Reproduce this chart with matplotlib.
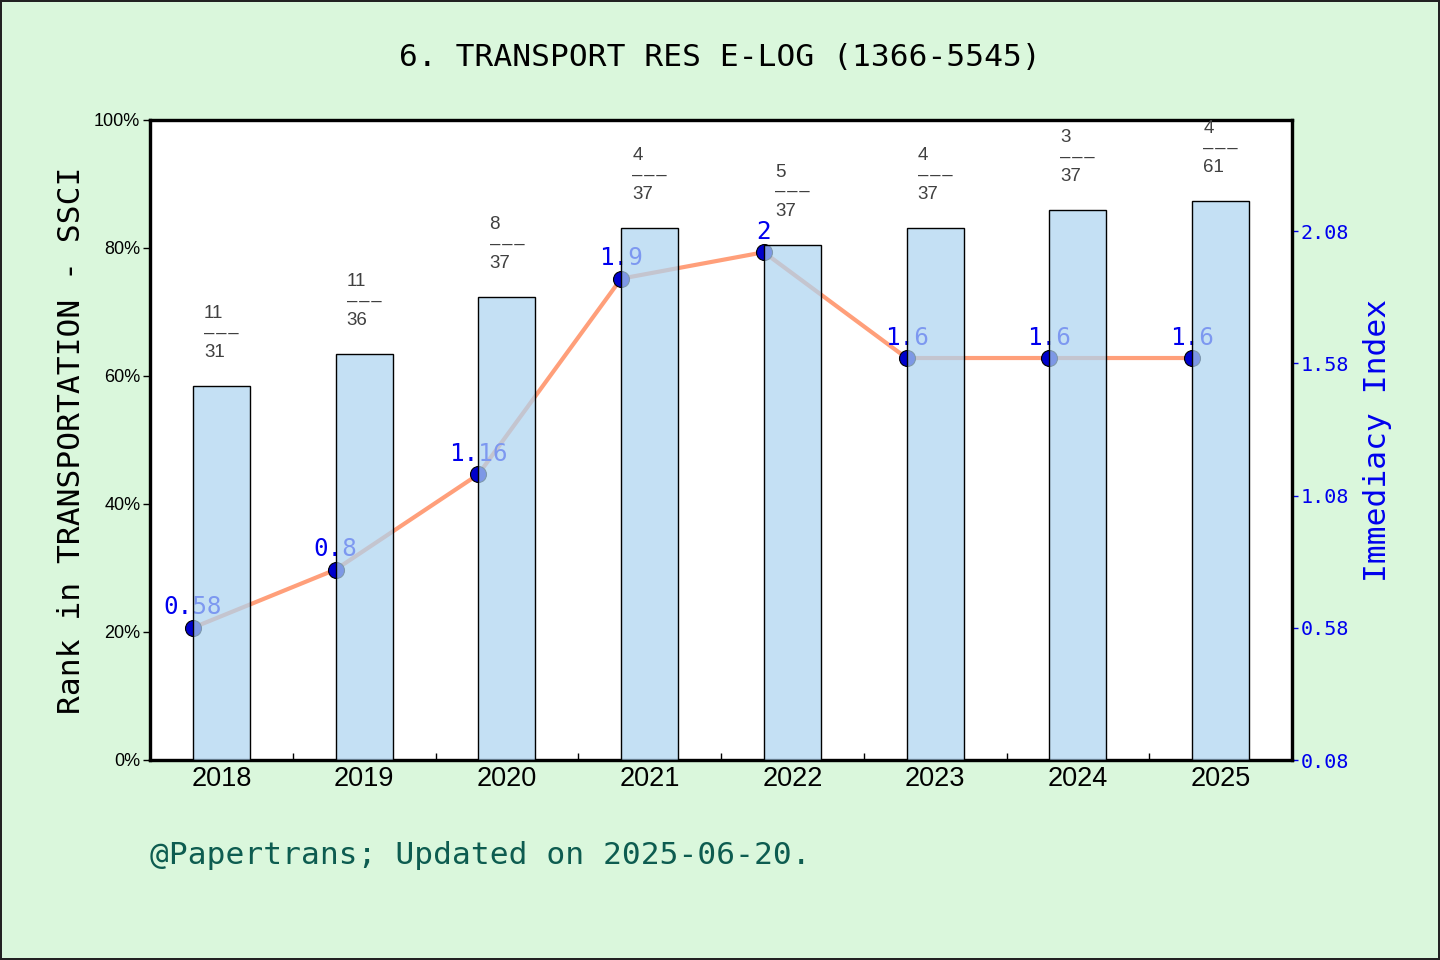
import matplotlib
matplotlib.use("Agg")
import matplotlib.pyplot as plt
import numpy as np

years = ["2018", "2019", "2020", "2021", "2022", "2023", "2024", "2025"]
rank_pct = [58.4, 63.4, 72.3, 83.1, 80.5, 83.1, 85.9, 87.3]
rank = [11, 11, 8, 4, 5, 4, 3, 4]
total = [31, 36, 37, 37, 37, 37, 37, 61]
immediacy = [0.58, 0.8, 1.16, 1.9, 2.0, 1.6, 1.6, 1.6]
imm_ticks = [0.08, 0.58, 1.08, 1.58, 2.08]

bg = "#daf7dc"
mono = "DejaVu Sans Mono"
sans = ["Liberation Sans", "DejaVu Sans"]

fig = plt.figure(figsize=(14.4, 9.6), dpi=100, facecolor=bg)
fig.patch.set_edgecolor("#222222")
fig.patch.set_linewidth(1.5)

rect = [150 / 1440, 1 - 760 / 960, 1142 / 1440, 640 / 960]
ax_line = fig.add_axes(rect)
ax_line.set_facecolor("white")
x = np.arange(len(years))

# line for immediacy index (drawn under the bars)
ax_line.plot(x - 0.2, immediacy, color="#ff9f7a", lw=3, marker="o", ms=11.5,
             mfc="#0000cc", mec="black", mew=0.8, zorder=2)
for xi, v in zip(x, immediacy):
    ax_line.annotate(f"{v:g}", (xi - 0.2, v), xytext=(0, 6), textcoords="offset points",
                     ha="center", va="bottom", color="#0000ee", fontsize=17.5, family=mono)

# bars on top, semi-transparent fill, solid edges
ax_bar = ax_line.twinx()
ax_bar.patch.set_visible(False)
ax_bar.bar(x, rank_pct, width=0.4, color=(0.682, 0.831, 0.945, 0.72),
           edgecolor="black", linewidth=1, zorder=3)
for xi, h, r, n in zip(x, rank_pct, rank, total):
    ax_bar.text(xi, h + 8.3, f"{r}\n–\u200a–\u200a–\n{n}", ha="center", va="center",
                multialignment="left", color="#404040", fontsize=13.5,
                family=sans, linespacing=1.2)
ax_bar.set_ylim(0, 100)
ax_bar.set_yticks([0, 20, 40, 60, 80, 100])
ax_bar.set_yticklabels([f"{t}%" for t in [0, 20, 40, 60, 80, 100]], fontsize=13, family=sans)
ax_bar.yaxis.tick_left()
ax_bar.yaxis.set_label_position("left")
ax_bar.set_ylabel("Rank in TRANSPORTATION - SSCI", fontsize=22.5, family=mono, labelpad=6)
ax_bar.tick_params(axis="y", direction="out", length=5, width=1, pad=2)

# right axis for the line (after twinx, which resets it)
ax_line.set_ylim(0.08, 2.5)
ax_line.set_yticks(imm_ticks)
ax_line.set_yticklabels([f"{t:.2f}" for t in imm_ticks], color="#0000ee",
                        fontsize=14.5, family=mono)
ax_line.yaxis.tick_right()
ax_line.yaxis.set_label_position("right")
ax_line.set_ylabel("Immediacy Index", color="#0000ee", fontsize=22.5, family=mono,
                   labelpad=10)
ax_line.tick_params(axis="y", direction="out", length=4, width=1, pad=2,
                    colors="#0000ee", labelcolor="#0000ee")

ax_line.set_xlim(-0.5, len(years) - 0.5)
ax_line.set_xticks(x)
ax_line.set_xticklabels(years, fontsize=19.5, family=sans)
ax_line.set_xticks(x[:-1] + 0.5, minor=True)
ax_line.tick_params(axis="x", which="major", length=0, pad=4)
ax_line.tick_params(axis="x", which="minor", direction="in", length=5, width=1)

for a in (ax_line, ax_bar):
    for s in a.spines.values():
        s.set_linewidth(2.3)
        s.set_color("black")

fig.text(0.5, 1 - 58 / 960, "6. TRANSPORT RES E-LOG (1366-5545)", ha="center",
         va="center", fontsize=22.5, family=mono)
fig.text(150 / 1440, 1 - 856 / 960, "@Papertrans; Updated on 2025-06-20.",
         ha="left", va="center", fontsize=22.5, family=mono, color="#0d5c50")

fig.savefig("out.png", dpi=100, facecolor=bg, edgecolor=fig.patch.get_edgecolor())
